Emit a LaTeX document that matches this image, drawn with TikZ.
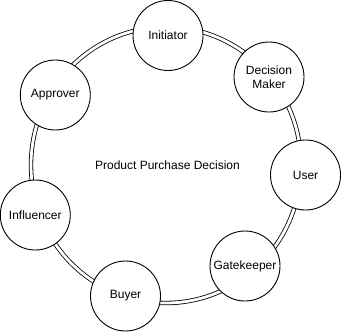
\documentclass[tikz,border=0pt]{standalone}
\usepackage{fontspec}
\setmainfont{Liberation Sans}
\begin{document}
\begin{tikzpicture}[x=1pt,y=-1pt,
  role/.style={circle,draw=black,fill=white,line width=0.9pt,minimum size=70pt,inner sep=0pt,align=center,font=\fontsize{12}{14}\selectfont},
  ring/.style={draw=black,line width=0.8pt,double=white,double distance=2.8pt}]
\useasboundingbox (0,0) rectangle (342,332);
\draw[ring] (166,165) ellipse [x radius=135, y radius=138];
\node[font=\fontsize{12}{14}\selectfont] (title) at (167.5,165) {Product Purchase Decision};
\node[role] (initiator) at (168,35.5) {Initiator};
\node[role] (decision) at (269,77) {Decision\\Maker};
\node[role] (user) at (305.5,175) {User};
\node[role] (gatekeeper) at (245,266) {Gatekeeper};
\node[role] (buyer) at (125.5,296) {Buyer};
\node[role] (influencer) at (35.3,215) {Influencer};
\node[role] (approver) at (55.3,95) {Approver};
\end{tikzpicture}
\end{document}
